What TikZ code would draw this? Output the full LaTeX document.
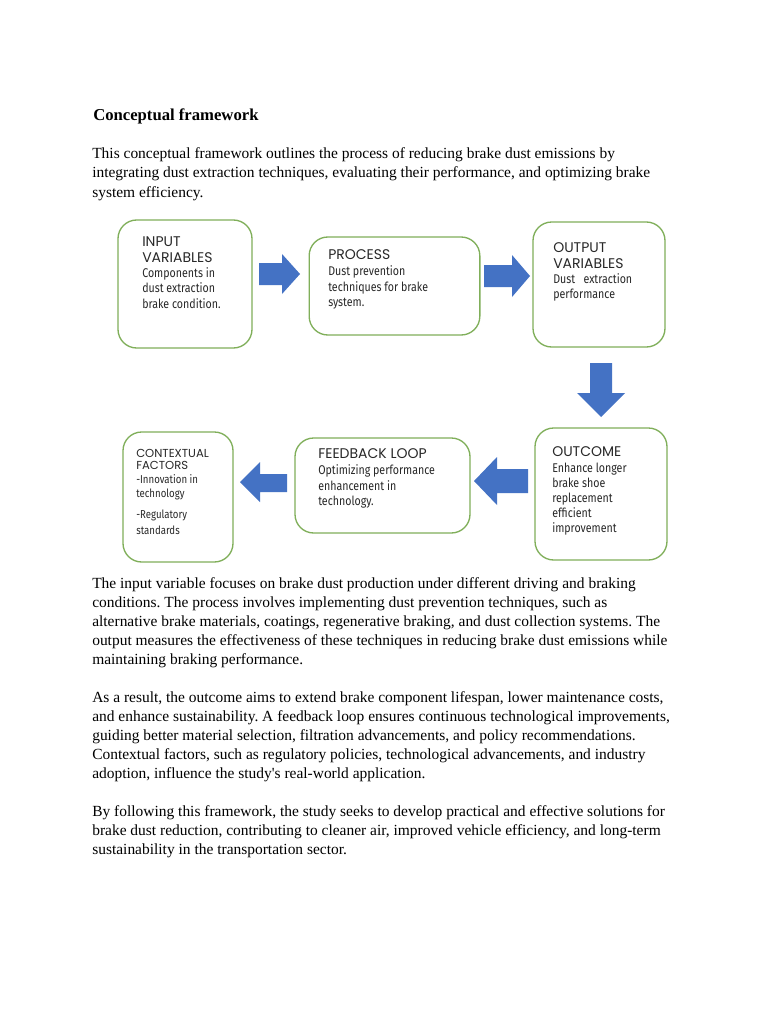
\documentclass[tikz,border=0pt]{standalone}
\usepackage{fontspec}
\setmainfont{Liberation Serif}
\newfontfamily\rawserif[Ligatures=ResetAll]{Liberation Serif}
\newfontfamily\titlefont{Poppins}
\newfontfamily\bodyfont[FakeStretch=0.84]{Fira Sans}
\definecolor{boxgreen}{RGB}{128,175,90}
\definecolor{arrowblue}{RGB}{68,114,196}
\definecolor{boxtext}{RGB}{40,40,40}
\frenchspacing
\tikzset{
  line/.style={anchor=base west, inner sep=0pt, font=\fontsize{11.6pt}{13.5pt}\selectfont},
  headline/.style={line, font=\bfseries\fontsize{12.5pt}{14pt}\selectfont},
  boxtitle/.style={anchor=base west, inner sep=0pt, text=boxtext, font=\titlefont\fontsize{10.5pt}{12pt}\selectfont},
  smalltitle/.style={boxtitle, font=\titlefont\fontsize{8.7pt}{10pt}\selectfont},
  boxbody/.style={anchor=base west, inner sep=0pt, text=boxtext, font=\bodyfont\fontsize{9.5pt}{11pt}\selectfont},
  smallbody/.style={boxbody, font=\bodyfont\fontsize{8.6pt}{10pt}\selectfont},
  frame/.style={draw=boxgreen, line width=1pt, rounded corners=14pt, fill=white, inner sep=0pt},
  blockarrow/.style={fill=arrowblue, draw=none},
}
\begin{document}
\begin{tikzpicture}[x=0.75pt,y=-0.75pt]
\useasboundingbox[fill=white] (0,0) rectangle (768,1024);

% heading and intro
\node[headline] (head) at (93,120) {Conceptual framework};
\node[line] (i1) at (92,158) {This conceptual framework outlines the process of reducing brake dust emissions by};
\node[line] (i2) at (92,177) {integrating dust extraction techniques, evaluating their performance, and optimizing brake};
\node[line] (i3) at (92,197) {system efficiency.};

% boxes
\node[frame, minimum width=100.5pt, minimum height=96pt] (input) at (185,284) {};
\node[frame, minimum width=128pt, minimum height=73.5pt] (process) at (394.5,286) {};
\node[frame, minimum width=99pt, minimum height=93.75pt] (output) at (599,284.5) {};
\node[frame, minimum width=99pt, minimum height=99pt] (outcome) at (601,494) {};
\node[frame, minimum width=131.25pt, minimum height=71.25pt] (feedback) at (382.5,485.5) {};
\node[frame, minimum width=82.5pt, minimum height=97.5pt] (context) at (178,497) {};

% box texts
\node[boxtitle] (inT1) at (142,246) {INPUT};
\node[boxtitle] (inT2) at (142,262) {VARIABLES};
\node[boxbody] (inB1) at (142,277) {Components in};
\node[boxbody] (inB2) at (142,292.5) {dust extraction};
\node[boxbody] (inB3) at (142,308) {brake condition.};

\node[boxtitle] (prT) at (328,259) {PROCESS};
\node[boxbody] (prB1) at (328,275) {Dust prevention};
\node[boxbody] (prB2) at (328,291) {techniques for brake};
\node[boxbody] (prB3) at (328,306) {system.};

\node[boxtitle] (outT1) at (553,252) {OUTPUT};
\node[boxtitle] (outT2) at (553,268) {VARIABLES};
\node[boxbody] (outB1) at (553,283) {Dust\ \ \ extraction};
\node[boxbody] (outB2) at (553,298) {performance};

\node[boxtitle] (ocT) at (552,456) {OUTCOME};
\node[boxbody] (ocB1) at (552,472) {Enhance longer};
\node[boxbody] (ocB2) at (552,487) {brake shoe};
\node[boxbody] (ocB3) at (552,502) {replacement};
\node[boxbody] (ocB4) at (552,517) {efficient};
\node[boxbody] (ocB5) at (552,532) {improvement};

\node[boxtitle] (fbT) at (318,458) {FEEDBACK LOOP};
\node[boxbody] (fbB1) at (318,474) {Optimizing performance};
\node[boxbody] (fbB2) at (318,490) {enhancement in};
\node[boxbody] (fbB3) at (318,505) {technology.};

\node[smalltitle] (cxT1) at (136,457) {CONTEXTUAL};
\node[smalltitle] (cxT2) at (136,469) {FACTORS};
\node[smallbody] (cxB1) at (136,483) {-Innovation in};
\node[smallbody] (cxB2) at (136,497) {technology};
\node[smallbody] (cxB3) at (136,518) {-Regulatory};
\node[smallbody] (cxB4) at (136,534) {standards};

% block arrows
\fill[blockarrow] (259,263) -- (282,263) -- (282,254) -- (300,274) -- (282,294) -- (282,285) -- (259,285) -- cycle;
\fill[blockarrow] (484,265) -- (512,265) -- (512,255) -- (530,276) -- (512,297) -- (512,287) -- (484,287) -- cycle;
\fill[blockarrow] (590,363) -- (612,363) -- (612,393) -- (625,393) -- (601,417) -- (577,393) -- (590,393) -- cycle;
\fill[blockarrow] (528,469) -- (497,469) -- (497,457) -- (474,481) -- (497,505) -- (497,493) -- (528,493) -- cycle;
\fill[blockarrow] (287,474) -- (260,474) -- (260,462) -- (240,482) -- (260,502) -- (260,492) -- (287,492) -- cycle;

% closing paragraphs
\node[line] (p1) at (92,588) {The input variable focuses on brake dust production under different driving and braking};
\node[line] (p2) at (92,607) {conditions. The process involves implementing dust prevention techniques, such as};
\node[line] (p3) at (92,626) {alternative brake materials, coatings, regenerative braking, and dust collection systems. The};
\node[line] (p4) at (92,645) {output measures the effectiveness of these techniques in reducing brake dust emissions while};
\node[line] (p5) at (92,664) {maintaining braking performance.};

\node[line] (q1) at (92,702) {As a result, the outcome aims to extend brake component lifespan, lower maintenance costs,};
\node[line] (q2) at (92,721) {and enhance sustainability. A feedback loop ensures continuous technological improvements,};
\node[line] (q3) at (92,740) {guiding better material selection, filtration advancements, and policy recommendations.};
\node[line] (q4) at (92,759) {Contextual factors, such as regulatory policies, technological advancements, and industry};
\node[line] (q5) at (92,778) {adoption, influence the study{\rawserif'}s real-world application.};

\node[line] (r1) at (92,816) {By following this framework, the study seeks to develop practical and effective solutions for};
\node[line] (r2) at (92,835) {brake dust reduction, contributing to cleaner air, improved vehicle efficiency, and long-term};
\node[line] (r3) at (92,854) {sustainability in the transportation sector.};
\end{tikzpicture}
\end{document}
